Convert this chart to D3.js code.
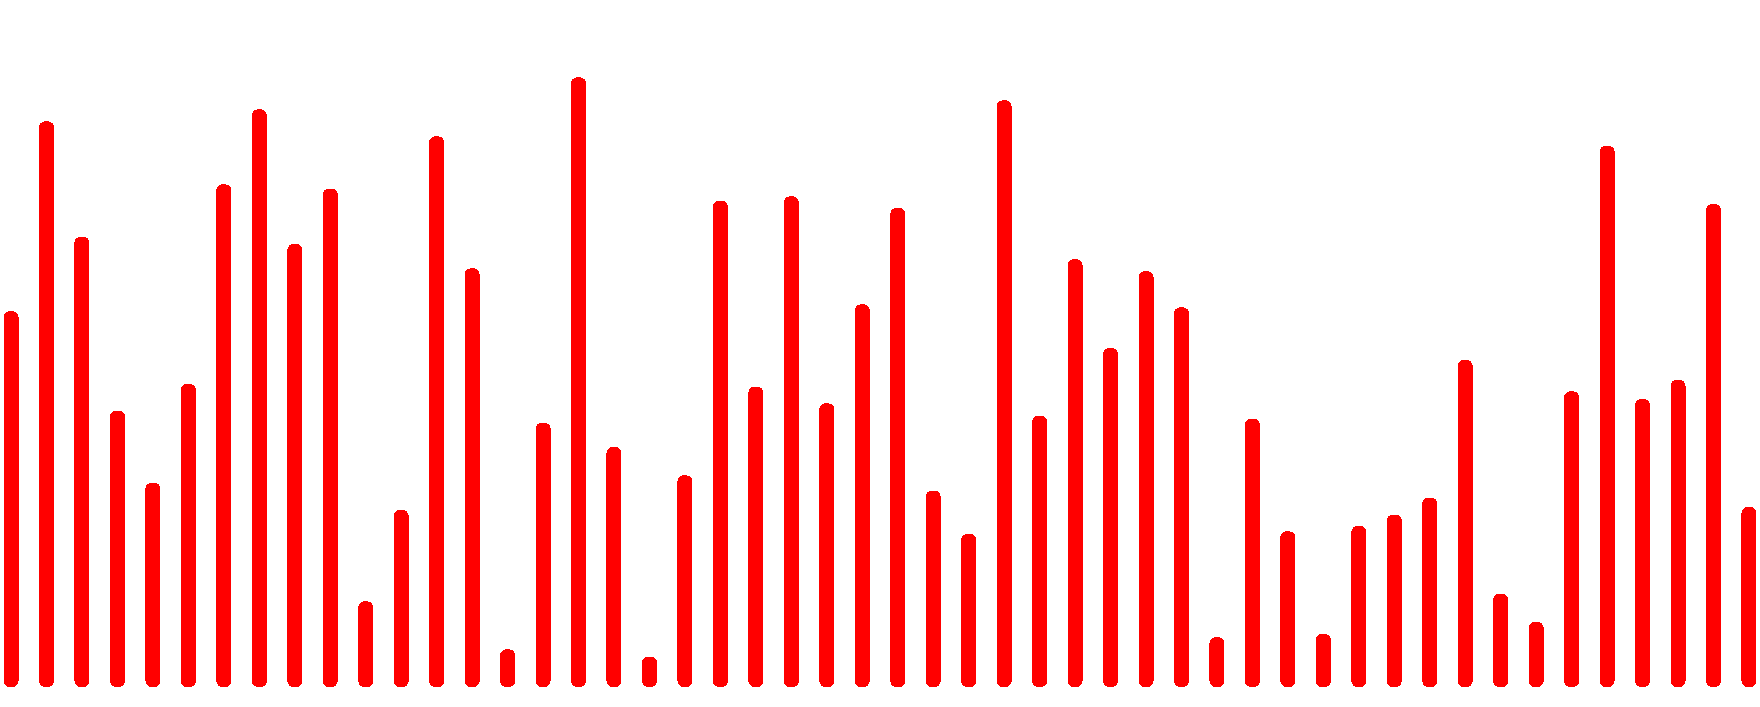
<!DOCTYPE html>
<html>
<head>
<meta charset="utf-8">
<script src="https://cdn.jsdelivr.net/npm/d3@7"></script>
<style>
  html, body { margin: 0; padding: 0; background: #fff; overflow: hidden; }
  svg { display: block; }
</style>
</head>
<body>
<script>
// Data (bar heights, arbitrary units)
const categories = d3.range(50).map(i => "B" + (i + 1));
const values = [
  375.7, 565.7, 450.3, 276.3, 204.3, 303.0, 502.7, 577.7, 443.0, 498.3,
  85.7, 177.0, 550.7, 418.7, 37.7, 264.3, 609.7, 240.0, 30.3, 211.7,
  486.3, 300.3, 490.7, 283.7, 382.7, 479.0, 196.3, 153.0, 586.7, 271.3,
  427.7, 339.0, 415.7, 379.7, 49.7, 268.3, 155.7, 53.0, 161.0, 172.3,
  189.3, 327.0, 93.3, 65.0, 295.7, 541.3, 288.0, 307.3, 483.0, 180.0
];

const W = 1760, H = 707;
const svg = d3.select("body").append("svg").attr("width", W).attr("height", H);

const x = d3.scaleBand()
  .domain(categories)
  .range([0, W])
  .paddingInner(0.577)
  .paddingOuter(0.1);

const y = d3.scaleLinear()
  .domain([0, 609.7])
  .range([687, 77.3]);

svg.append("g")
  .selectAll("rect")
  .data(values)
  .join("rect")
  .attr("x", (d, i) => x(categories[i]))
  .attr("y", d => y(d))
  .attr("width", x.bandwidth())
  .attr("height", d => y(0) - y(d))
  .attr("rx", 6)
  .attr("ry", 6)
  .attr("fill", "#ff0000")
  .attr("shape-rendering", "crispEdges");
</script>
</body>
</html>
